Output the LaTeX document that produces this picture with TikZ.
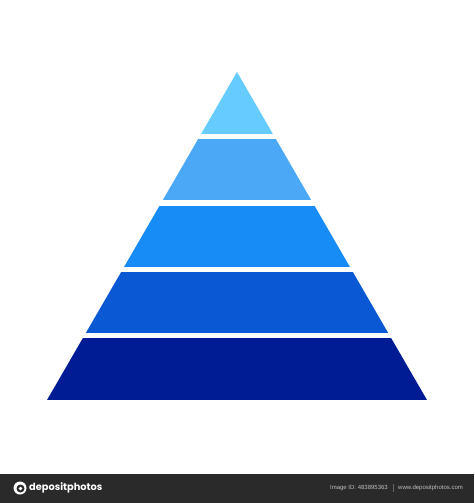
\documentclass[tikz,border=0pt]{standalone}
\usepackage{fontspec}
\setmainfont{Liberation Sans}
\newfontfamily\logofont{Poppins}
\usetikzlibrary{positioning}

\definecolor{layerA}{RGB}{102,204,255}
\definecolor{layerB}{RGB}{74,168,246}
\definecolor{layerC}{RGB}{24,140,246}
\definecolor{layerD}{RGB}{10,88,212}
\definecolor{layerE}{RGB}{0,28,148}
\definecolor{barbg}{RGB}{42,42,42}

\begin{document}
\begin{tikzpicture}[x=1pt,y=-1pt,
    stamp/.style={text=white!75!black,font=\fontsize{6}{7}\selectfont,inner sep=0pt}]
    \useasboundingbox (0,0) rectangle (474,503);
    \fill[white] (0,0) rectangle (474,503);
    % pyramid, cut into bands
    \begin{scope}
        \clip (237,72) -- (427,400) -- (47,400) -- cycle;
        \foreach \top/\bot/\col in {60/134/layerA,139/200/layerB,206/267/layerC,272/333/layerD,338/400/layerE}
            \fill[\col] (0,\top) rectangle (474,\bot);
    \end{scope}
    % footer
    \fill[barbg] (0,474) rectangle (474,503);
    \fill[white] (20,488) circle (6.5);
    \fill[barbg] (20.5,488.5) circle (4);
    \fill[white] (20.5,488.5) circle (1.8);
    \node[anchor=west,text=white,inner sep=0pt,font=\logofont\bfseries\fontsize{9.8}{11}\selectfont] (brand) at (29,487.5) {depositphotos};
    \node[stamp,anchor=east] (imgid) at (388,488) {Image ID: 483895363};
    \node[stamp,anchor=west] (site) at (398,488) {www.depositphotos.com};
    \draw[white!40!black,line width=0.4] (393,484) -- (393,492);
\end{tikzpicture}
\end{document}
